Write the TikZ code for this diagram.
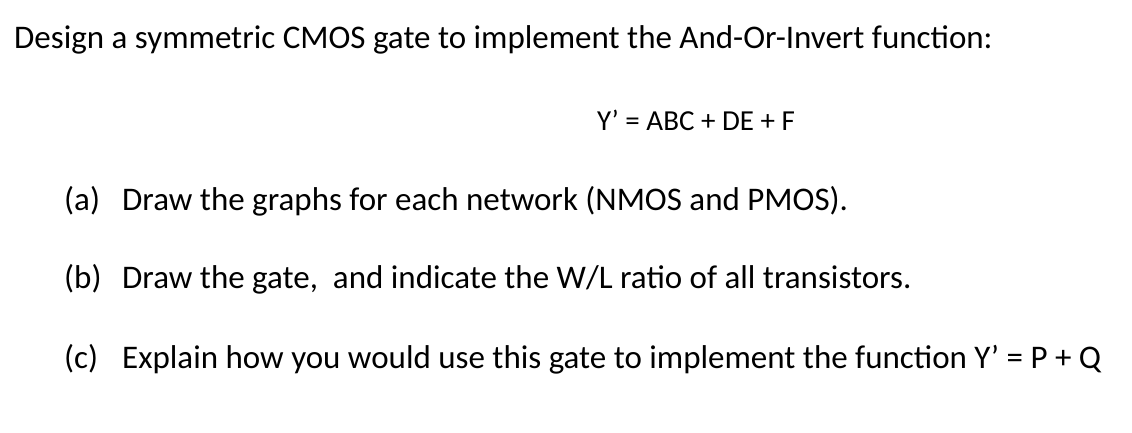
\documentclass[tikz,border=0pt]{standalone}
\usepackage{fontspec}
\setmainfont{Carlito}
\begin{document}
\begin{tikzpicture}[x=1pt,y=1pt,txt/.style={anchor=base west,inner sep=0pt,font=\fontsize{33}{38}\selectfont}]
\useasboundingbox (0,0) rectangle (1132,-432);
\node[txt] (l1) at (14,-48) {Design a symmetric CMOS gate to implement the And-Or-Invert function:};
\node[txt,font=\fontsize{29}{34}\selectfont] (l2) at (597,-130) {Y’ = ABC + DE + F};
\node[txt] (a) at (64,-210) {(a)};
\node[txt] (at) at (122,-210) {Draw the graphs for each network (NMOS and PMOS).};
\node[txt] (b) at (64,-288) {(b)};
\node[txt] (bt) at (122,-288) {Draw the gate,\ \ and indicate the W/L ratio of all transistors.};
\node[txt] (c) at (64,-368) {(c)};
\node[txt] (ct) at (122,-368) {Explain how you would use this gate to implement the function Y’ = P + Q};
\end{tikzpicture}
\end{document}
